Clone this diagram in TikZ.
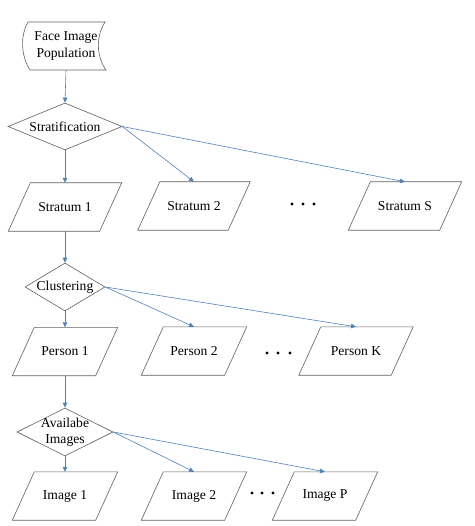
\documentclass[tikz,border=0pt]{standalone}
\usepackage{fontspec}
\setmainfont{Liberation Serif}
\usetikzlibrary{shapes.geometric,arrows.meta}
\definecolor{flowblue}{RGB}{79,129,189}
\definecolor{boxgray}{RGB}{95,95,95}

\tikzset{
  box/.style={minimum width=110pt, minimum height=48pt, inner sep=0pt,
    append after command={\pgfextra{\begin{pgfinterruptpath}
      \draw[draw=boxgray, line width=0.6pt] ([xshift=22pt]\tikzlastnode.north west)
        -- (\tikzlastnode.north east) -- ([xshift=-22pt]\tikzlastnode.south east)
        -- (\tikzlastnode.south west) -- cycle;
      \end{pgfinterruptpath}}}},
  choice/.style={diamond, draw=boxgray, line width=0.6pt,
    minimum height=48pt, inner sep=0pt},
  flow/.style={draw=flowblue, line width=0.6pt, -{Triangle[width=4.5pt,length=5pt]}},
}

\begin{document}
\begin{tikzpicture}[x=1pt, y=-1pt, font=\fontsize{13.6}{16.5}\selectfont]
\useasboundingbox (0,0) rectangle (474,526);

% source document
\node[minimum width=80pt, minimum height=48pt, align=center, inner sep=0pt] (pop) at (66,46) {Face Image\\Population};
\draw[draw=boxgray, line width=0.6pt] (28,22) -- (105,22)
  .. controls (96,36) and (96,56) .. (106,70) -- (30,70)
  .. controls (21,56) and (20,36) .. cycle;

% strata
\node[choice, aspect=2.4, minimum width=114pt, minimum height=47pt] (strat) at (65,126.5) {Stratification};
\node[box, minimum width=113pt] (s1) at (65,207) {Stratum 1};
\node[box, minimum width=112pt] (s2) at (194,206) {Stratum 2};
\node[box, minimum width=113pt] (sS) at (405,206) {Stratum S};

% persons
\node[choice, aspect=1.7, minimum width=80pt] (clus) at (65,287) {Clustering};
\node[box, minimum width=105pt] (p1) at (65,351.5) {Person 1};
\node[box, minimum width=105pt] (p2) at (194,351) {Person 2};
\node[box, minimum width=114pt] (pK) at (356,351) {Person K};

% images
\node[choice, aspect=2, minimum width=96pt, align=center] (avail) at (65,432) {\makebox[20pt]{Availabe}\\\makebox[20pt]{Images}};
\node[box, minimum width=105pt] (i1) at (65,496) {Image 1};
\node[box, minimum width=105pt] (i2) at (194,496) {Image 2};
\node[box, minimum width=105pt] (iP) at (325,496) {Image P};

% dots
\foreach \x/\y in {292/204, 303/204, 314/204, 267/353, 278/353, 290/353, 252/493, 262/493, 273/493}
  \fill (\x,\y) circle [radius=1.6pt];

% arrows
\draw[flow] (pop.south) -- (strat.north);
\draw[flow] (strat.south) -- (s1.north);
\draw[flow] (strat.east) -- (s2.north);
\draw[flow] (strat.east) -- (sS.north);
\draw[flow] (s1.south) -- (clus.north);
\draw[flow] (clus.south) -- (p1.north);
\draw[flow] (clus.east) -- (p2.north);
\draw[flow] (clus.east) -- (pK.north);
\draw[flow] (p1.south) -- (avail.north);
\draw[flow] (avail.south) -- (i1.north);
\draw[flow] (avail.east) -- (i2.north);
\draw[flow] (avail.east) -- (iP.north);
\end{tikzpicture}
\end{document}
